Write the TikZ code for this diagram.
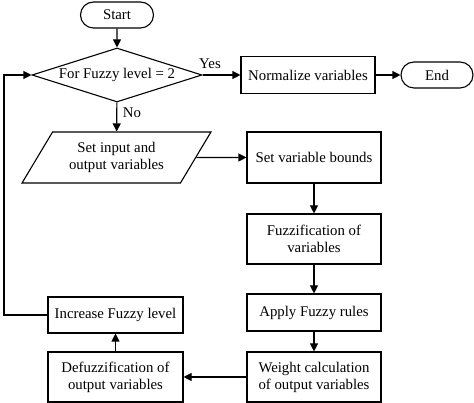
\documentclass[tikz,border=0pt]{standalone}
\usepackage{fontspec}
\setmainfont{Liberation Serif}
\usetikzlibrary{shapes.geometric,shapes.misc,arrows.meta}

\begin{document}
\begin{tikzpicture}[x=1pt,y=1pt,
        line width=1.1pt,
        >={Triangle[length=8pt,width=8pt]},
        every node/.style={font=\fontsize{14.8}{17}\selectfont, inner sep=0pt, align=center},
        terminal/.style={rounded rectangle, draw=black, minimum height=26pt},
        process/.style={rectangle, draw=black, minimum width=134pt},
        decision/.style={diamond, aspect=3.15, draw=black, minimum width=170pt, minimum height=54pt},
        io/.style={trapezium, trapezium left angle=53.3, trapezium right angle=126.7,
            trapezium stretches=true, draw=black, minimum width=189pt, minimum height=51pt}]
        \useasboundingbox (0,0) rectangle (474,403);

        \node (start) [terminal, minimum width=73pt] at (117,388) {Start};
        \node (check) [decision] at (117,328) {For Fuzzy level = 2};
        \node (normalize) [process, minimum height=37pt] at (308,328) {Normalize variables};
        \node (end) [terminal, minimum width=72pt] at (437,328) {End};
        \node (setio) [io] at (116.5,245.5) {Set input and\\output variables};
        \node (bounds) [process, minimum height=51pt] at (314,245.5) {Set variable bounds};
        \node (fuzzify) [process, minimum height=50pt] at (314,164) {Fuzzification of\\variables};
        \node (rules) [process, minimum height=37pt] at (314,90.5) {Apply Fuzzy rules};
        \node (weight) [process, minimum height=50pt] at (314,26) {Weight calculation\\of output variables};
        \node (defuzz) [process, minimum width=135pt, minimum height=50pt] at (115.5,26) {Defuzzification of\\output variables};
        \node (increase) [process, minimum width=135pt, minimum height=36pt] at (115.5,88) {Increase Fuzzy level};
        \node (yes) [] at (210,339) {Yes};
        \node (no) [] at (132,290) {No};
        \coordinate (loop) at (4,88);

        \draw[->] (start) -- (check);
        \draw[->] (check) -- (normalize);
        \draw[->] (normalize) -- (end);
        \draw[->] (check) -- (setio);
        \draw[->] (setio) -- (bounds);
        \draw[->] (bounds) -- (fuzzify);
        \draw[->] (fuzzify) -- (rules);
        \draw[->] (rules) -- (weight);
        \draw[->] (weight) -- (defuzz);
        \draw[->] (defuzz) -- (increase);
        \draw[->] (increase.west) -- (loop) |- (check.west);
    \end{tikzpicture}
\end{document}
